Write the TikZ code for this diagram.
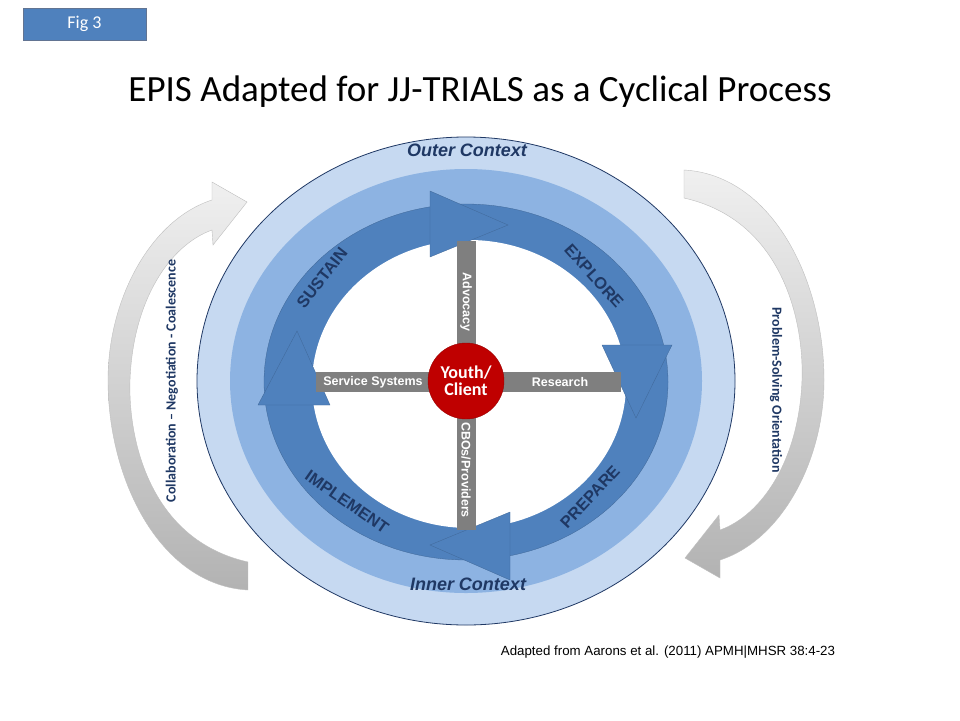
\documentclass[tikz,border=0pt]{standalone}
\usepackage{fontspec}
\setmainfont{Carlito}
\newfontfamily\arialf{Liberation Sans}
\definecolor{band}{HTML}{4F81BD}
\definecolor{mid}{HTML}{8DB3E2}
\definecolor{light}{HTML}{C6D9F1}
\definecolor{navy}{HTML}{1F3864}
\definecolor{crossg}{HTML}{7F7F7F}
\tikzset{
 ringlbl/.style={font=\arialf\bfseries\fontsize{16.5}{16.5}\selectfont,text=navy},
 crosslbl/.style={font=\arialf\bfseries\fontsize{12.5}{12.5}\selectfont,text=white},
 sidelbl/.style={font=\bfseries\fontsize{14}{14}\selectfont,text=navy},
 ctxlbl/.style={font=\arialf\bfseries\itshape\fontsize{18}{18}\selectfont,text=navy},
 grayarrow/.style={top color=gray!12,bottom color=gray!60,draw=gray!50,line width=0.4pt}
}
\begin{document}
\begin{tikzpicture}[x=1pt,y=-1pt]
\useasboundingbox (0,0) rectangle (960,720);
\fill[white] (0,0) rectangle (960,720);
% Fig box
\node[draw=navy!70,fill=band,minimum width=123,minimum height=32,inner sep=0,font=\fontsize{18}{18}\selectfont,text=white] (fig) at (84.5,24) {Fig 3};
\node[font=\fontsize{37}{37}\selectfont] (title) at (480,92) {EPIS Adapted for JJ-TRIALS as a Cyclical Process};
% side arrows
\path[grayarrow] (248,562) .. controls (150,540) and (128,440) .. (130,380) .. controls (133,300) and (170,245) .. (212,230) -- (213,245) -- (247,202) -- (212,182) -- (212,200) .. controls (150,220) and (108,300) .. (108,380) .. controls (108,480) and (160,585) .. (248,590) -- cycle;
\begin{scope}[rotate around={180:(466,380)}]
\path[grayarrow] (248,562) .. controls (150,540) and (128,440) .. (130,380) .. controls (133,300) and (170,245) .. (212,230) -- (213,245) -- (247,202) -- (212,182) -- (212,200) .. controls (150,220) and (108,300) .. (108,380) .. controls (108,480) and (160,585) .. (248,590) -- cycle;
\end{scope}
\node[sidelbl,rotate=90] (lt) at (172,381) {Collaboration – Negotiation - Coalescence};
\node[sidelbl,rotate=-90] (rt) at (776,390) {Problem-Solving Orientation};
% rings
\fill[light,draw=navy,line width=0.8pt] (466,381) ellipse [x radius=269,y radius=244];
\fill[mid] (466,381) ellipse [x radius=236,y radius=212];
\fill[band,draw=band!80!black,line width=0.3pt] (466,382) ellipse [x radius=202,y radius=178];
\fill[white] (469,384) ellipse [x radius=157,y radius=144];
% arrow heads
\fill[band,draw=band!80!black,line width=0.3pt] (430,191) -- (508,225) -- (430,257) -- cycle;
\fill[band,draw=band!80!black,line width=0.3pt] (602,345) -- (636,418) -- (672,345) -- cycle;
\fill[band,draw=band!80!black,line width=0.3pt] (510,512) -- (430,545) -- (510,580) -- cycle;
\fill[band,draw=band!80!black,line width=0.3pt] (258,405) -- (297,331) -- (330,405) -- cycle;
% cross
\fill[crossg] (457,241) rectangle (476,530);
\fill[crossg] (316,372) rectangle (621,392);
\node[crosslbl,rotate=-90] (adv) at (466,302) {Advocacy};
\node[crosslbl,rotate=-90] (cbo) at (466,470) {CBOs/Providers};
\node[crosslbl] (ss) at (373,382) {Service Systems};
\node[crosslbl] (res) at (560,382) {Research};
\node[circle,fill=red!75!black,draw=red!60!black,minimum size=76,inner sep=0,align=center,font=\bfseries\fontsize{18}{17}\selectfont,text=white] (yc) at (466,381) {Youth/\\Client};
% ring labels
\node[ringlbl,rotate=52] (sus) at (322,278) {SUSTAIN};
\node[ringlbl,rotate=-48] (exp) at (594,276) {EXPLORE};
\node[ringlbl,rotate=47] (pre) at (590,497) {PREPARE};
\node[ringlbl,rotate=-35] (imp) at (347,502) {IMPLEMENT};
\node[ctxlbl] (oc) at (467,150) {Outer Context};
\node[ctxlbl] (ic) at (468,584) {Inner Context};
\node[font=\arialf\fontsize{13.3}{13.3}\selectfont] (src) at (668,652) {Adapted from Aarons et al. (2011) APMH|MHSR 38:4-23};
\end{tikzpicture}
\end{document}
